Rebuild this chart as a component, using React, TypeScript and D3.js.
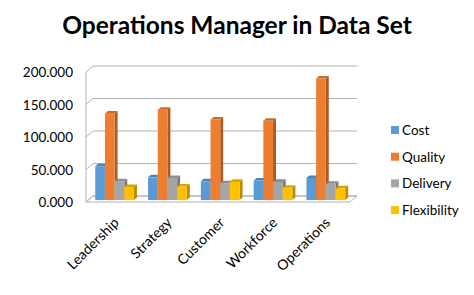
import React from "react";
import * as d3 from "d3";

const categories = ["Leadership", "Strategy", "Customer", "Workforce", "Operations"];
const seriesNames = ["Cost", "Quality", "Delivery", "Flexibility"];
const cost = [52, 35, 29, 30, 34];
const quality = [133, 139, 124, 122, 187];
const delivery = [29, 34, 26, 28, 25];
const flexibility = [20, 21, 28, 19, 18];
const seriesValues = [cost, quality, delivery, flexibility];
const colors = ["#5B9BD5", "#ED7D31", "#A5A5A5", "#FFC000"];
const yTicks = [0, 50, 100, 150, 200];

const W = 474;
const H = 295;
const FONT = "Lato, 'Open Sans', sans-serif";

export default function App() {
  const x0 = 86;
  const x1 = 350;
  const DX = 7;
  const DY = 6;
  const y = d3.scaleLinear().domain([0, 200]).range([202, 72]);
  const xb = d3.scaleBand().domain(categories).range([x0, x1]).paddingInner(0).paddingOuter(0);
  const bw = 9.7;
  const d0 = 0.32;
  const d1 = 0.74;
  const proj = (px: number, v: number, d: number): [number, number] => [px + d * DX, y(v) - d * DY];
  const pts = (arr: [number, number][]) => arr.map((p) => p.join(",")).join(" ");

  const grid = "#b3b3b3";

  const bars: JSX.Element[] = [];
  categories.forEach((c, ci) => {
    const band = xb.bandwidth();
    const start = (xb(c) as number) + (band - bw * seriesNames.length) / 2;
    seriesNames.forEach((s, si) => {
      const v = seriesValues[si][ci];
      const xl = start + si * bw;
      const xr = xl + bw;
      const base = d3.color(colors[si])!;
      const side = base.darker(0.9).toString();
      const top = base.darker(0.45).toString();
      bars.push(
        <g key={c + s}>
          <polygon
            points={pts([proj(xr, 0, d0), proj(xr, 0, d1), proj(xr, v, d1), proj(xr, v, d0)])}
            fill={side}
          />
          <polygon
            points={pts([proj(xl, v, d0), proj(xr, v, d0), proj(xr, v, d1), proj(xl, v, d1)])}
            fill={top}
          />
          <polygon
            points={pts([proj(xl, 0, d0), proj(xr, 0, d0), proj(xr, v, d0), proj(xl, v, d0)])}
            fill={colors[si]}
          />
        </g>
      );
    });
  });

  return (
    <svg width={W} height={H} style={{ position: "absolute", left: 0, top: 0, background: "#fff" }}>
      <rect x={0} y={0} width={W} height={H} fill="#fff" />
      <text x={W / 2} y={34} textAnchor="middle" fontFamily={FONT} fontWeight="bold" fontSize={24.5} fill="#000">
        Operations Manager in Data Set
      </text>
      {yTicks.map((t) => {
        const a = proj(x0, t, 0);
        const b = proj(x0, t, 1);
        const e = proj(x1, t, 1);
        return (
          <polyline key={"g" + t} points={pts([a, b, e])} fill="none" stroke={grid} strokeWidth={1} />
        );
      })}
      <line x1={x0} y1={y(0)} x2={x0} y2={y(200)} stroke={grid} strokeWidth={1} />
      <polygon
        points={pts([proj(x0, 0, 0), proj(x1, 0, 0), proj(x1, 0, 1), proj(x0, 0, 1)])}
        fill="none"
        stroke={grid}
        strokeWidth={1}
      />
      {bars}
      {yTicks.map((t) => (
        <text key={"t" + t} x={73} y={y(t) + 5} textAnchor="end" fontFamily={FONT} fontSize={13.5} fill="#000">
          {d3.format(".3f")(t)}
        </text>
      ))}
      {categories.map((c) => {
        const cx = (xb(c) as number) + xb.bandwidth() / 2 + 4;
        const cy = 220;
        return (
          <text
            key={"c" + c}
            transform={`translate(${cx},${cy}) rotate(-45)`}
            textAnchor="end"
            fontFamily={FONT}
            fontSize={14}
            fill="#000"
            dy="0.35em"
          >
            {c}
          </text>
        );
      })}
      {seriesNames.map((s, i) => {
        const cy = 130 + i * 26.7;
        return (
          <g key={"l" + s}>
            <rect x={391} y={cy - 4} width={8} height={8} fill={colors[i]} />
            <text x={402} y={cy + 5} fontFamily={FONT} fontSize={13.5} fill="#000">
              {s}
            </text>
          </g>
        );
      })}
    </svg>
  );
}
